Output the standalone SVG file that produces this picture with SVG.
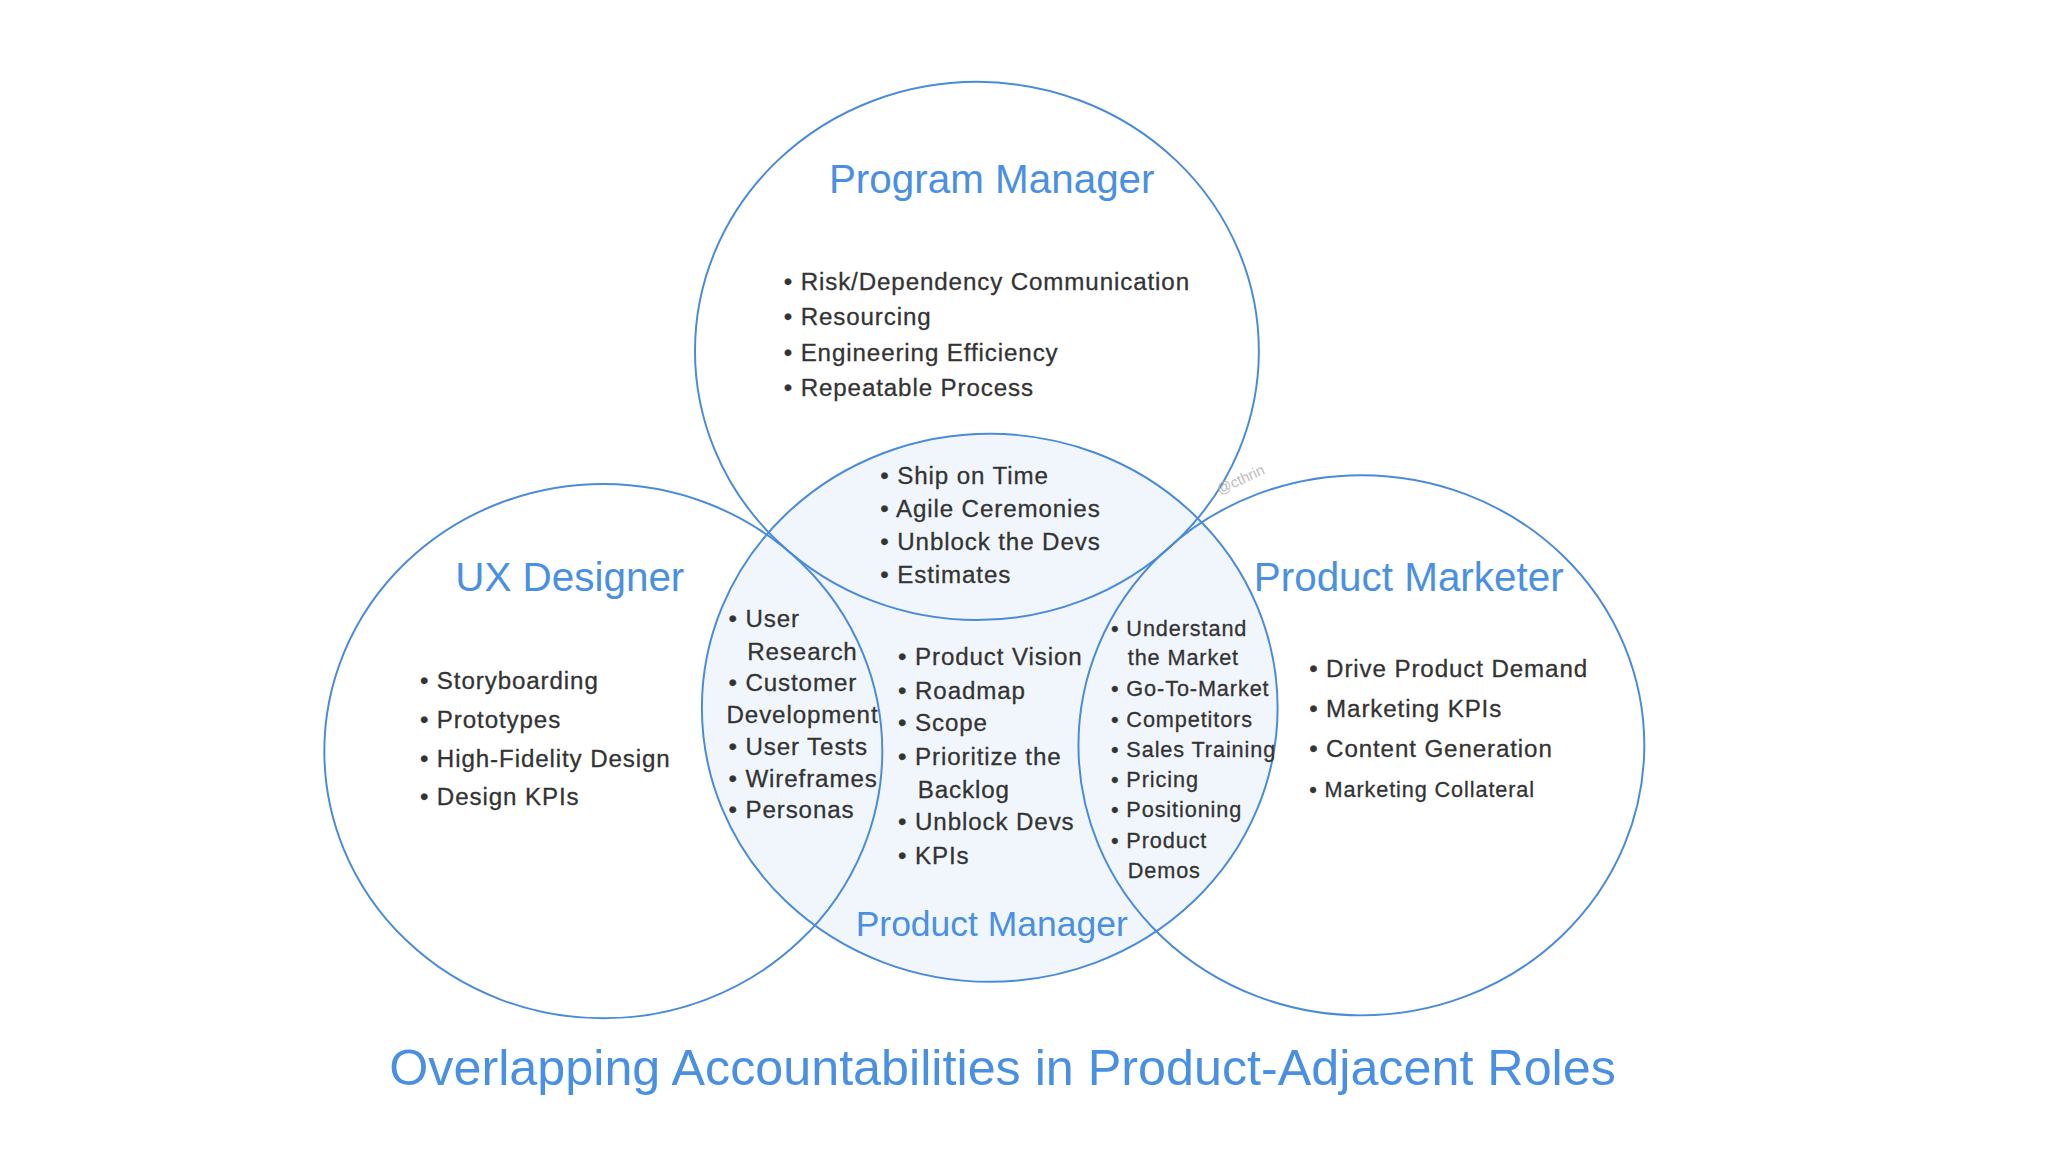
<svg xmlns="http://www.w3.org/2000/svg" width="2066" height="1155" viewBox="0 0 2066 1155">
<style>
.c{fill:none;stroke:#4a8bd9;stroke-width:2}
.h{font-family:"Liberation Sans",Arial,sans-serif;fill:#4a90e2;text-anchor:middle}
.b{font-family:"Liberation Sans",Arial,sans-serif;fill:#333;font-size:24.5px;letter-spacing:0.9px;stroke:#333;stroke-width:0.3}
.s{font-size:22px}
</style>
<rect width="2066" height="1155" fill="#fff"/>
<g transform="scale(0.9858)">
<g id="product-manager"><ellipse cx="1004" cy="718" rx="292" ry="278" fill="#f1f6fd" stroke="#4a8bd9" stroke-width="2"/></g>
<g id="program-manager"><ellipse class="c" cx="991" cy="356" rx="286" ry="273"/></g>
<g id="ux-designer"><ellipse class="c" cx="612" cy="762" rx="283" ry="271"/></g>
<g id="product-marketer"><ellipse class="c" cx="1381" cy="756" rx="287" ry="274"/></g>
<g id="labels">
<text class="h" x="1006" y="196" font-size="41">Program Manager</text>
<text class="h" x="578" y="600" font-size="41">UX Designer</text>
<text class="h" x="1429" y="600" font-size="41">Product Marketer</text>
<text class="h" x="1006" y="949" font-size="36">Product Manager</text>
<text class="h" x="1017" y="1101" font-size="51">Overlapping Accountabilities in Product-Adjacent Roles</text>
<text x="1237" y="502" font-family="Liberation Sans,Arial,sans-serif" font-size="15" fill="#bbb" transform="rotate(-25 1237 502)">@cthrin</text>
</g>
<g id="program-items" class="b">
<text x="795" y="294">• Risk/Dependency Communication</text>
<text x="795" y="330">• Resourcing</text>
<text x="795" y="366">• Engineering Efficiency</text>
<text x="795" y="402">• Repeatable Process</text>
</g>
<g id="program-pm-items" class="b">
<text x="893" y="491">• Ship on Time</text>
<text x="893" y="524">• Agile Ceremonies</text>
<text x="893" y="558">• Unblock the Devs</text>
<text x="893" y="591">• Estimates</text>
</g>
<g id="ux-items" class="b">
<text x="426" y="699">• Storyboarding</text>
<text x="426" y="738">• Prototypes</text>
<text x="426" y="778">• High-Fidelity Design</text>
<text x="426" y="817">• Design KPIs</text>
</g>
<g id="ux-pm-items" class="b">
<text x="739" y="636">• User</text>
<text x="758" y="669">Research</text>
<text x="739" y="701">• Customer</text>
<text x="737" y="733">Development</text>
<text x="739" y="766">• User Tests</text>
<text x="739" y="798">• Wireframes</text>
<text x="739" y="830">• Personas</text>
</g>
<g id="pm-items" class="b">
<text x="911" y="675">• Product Vision</text>
<text x="911" y="709">• Roadmap</text>
<text x="911" y="742">• Scope</text>
<text x="911" y="776">• Prioritize the</text>
<text x="931" y="809">Backlog</text>
<text x="911" y="842">• Unblock Devs</text>
<text x="911" y="876">• KPIs</text>
</g>
<g id="pm-marketer-items" class="b s">
<text x="1127" y="645">• Understand</text>
<text x="1144" y="675">the Market</text>
<text x="1127" y="706">• Go-To-Market</text>
<text x="1127" y="737">• Competitors</text>
<text x="1127" y="768">• Sales Training</text>
<text x="1127" y="798">• Pricing</text>
<text x="1127" y="829">• Positioning</text>
<text x="1127" y="860">• Product</text>
<text x="1144" y="891">Demos</text>
</g>
<g id="marketer-items" class="b">
<text x="1328" y="687">• Drive Product Demand</text>
<text x="1328" y="727">• Marketing KPIs</text>
<text x="1328" y="768">• Content Generation</text>
<text x="1328" y="808" font-size="22">• Marketing Collateral</text>
</g>
</g>
</svg>
